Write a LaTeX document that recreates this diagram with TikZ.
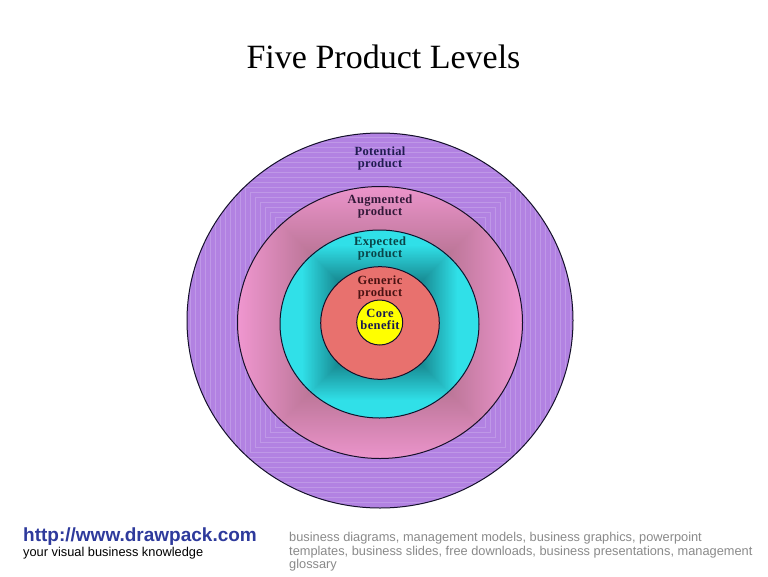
\documentclass[tikz,border=0pt]{standalone}
\usepackage{fontspec}
\setmainfont{Liberation Serif}
\newfontfamily\arialf{Liberation Sans}
\definecolor{purpleC}{HTML}{B282E2}
\definecolor{pinkO}{HTML}{EE96CE}
\definecolor{pinkI}{HTML}{BC7698}
\definecolor{cyanO}{HTML}{30E0E8}
\definecolor{cyanI}{HTML}{178890}
\definecolor{redC}{HTML}{E8716E}
\definecolor{yelC}{HTML}{FFFF00}
\definecolor{outlineC}{HTML}{14102A}
\definecolor{txPot}{HTML}{201C50}
\definecolor{txAug}{HTML}{321838}
\definecolor{txExp}{HTML}{0A4448}
\definecolor{txGen}{HTML}{4A1212}
\definecolor{txCore}{HTML}{1A1A50}
\definecolor{urlC}{HTML}{2E3A9C}
\definecolor{grayT}{HTML}{8A8A8A}
\tikzset{
  ring/.style={draw=outlineC, line width=1pt},
  lvl/.style={align=center, inner sep=0pt, font=\fontsize{12.5}{12}\selectfont\bfseries\addfontfeatures{LetterSpace=3}},
  foot/.style={inner sep=0pt, anchor=base west, font=\arialf\fontsize{12.8}{13.5}\selectfont},
}
\begin{document}
\begin{tikzpicture}[x=1pt,y=-1pt]
\useasboundingbox (0,0) rectangle (768,576);
\fill[white] (0,0) rectangle (768,576);

% title
\node[anchor=base, inner sep=0pt, font=\fontsize{34}{36}\selectfont] (title) at (383.5,68) {Five Product Levels};

% potential (outer)
\fill[purpleC] (380,320.5) ellipse [x radius=193pt, y radius=187.5pt];
\begin{scope}
  \clip (380,320.5) ellipse [x radius=193pt, y radius=187.5pt];
  \foreach \s in {105,110,...,190}
    \draw[white, opacity=0.18, line width=0.7pt] ({380-\s},{322-\s}) rectangle ({380+\s},{322+\s});
\end{scope}

% augmented (pink)
\begin{scope}
  \clip (380,322.5) ellipse [x radius=142.5pt, y radius=136pt];
  \foreach \s in {144,143,...,60}{
    \pgfmathtruncatemacro\t{max(0,min(100,(\s-70)/(140-70)*100))}
    \fill[pinkO!\t!pinkI] ({380-\s},{322.5-\s}) rectangle ({380+\s},{322.5+\s});
  }
\end{scope}

% expected (cyan)
\begin{scope}
  \clip (379.5,324) ellipse [x radius=99.5pt, y radius=94pt];
  \foreach \s in {100,99,...,30}{
    \pgfmathtruncatemacro\t{max(0,min(100,(\s-41)/(78-41)*100))}
    \fill[cyanO!\t!cyanI] ({380-\s},{323-\s}) rectangle ({380+\s},{323+\s});
  }
\end{scope}

% generic (red)
\fill[redC] (380,323) ellipse [x radius=59.3pt, y radius=56.3pt];
% core (yellow)
\fill[yelC] (379.7,322.5) ellipse [x radius=23pt, y radius=22.5pt];

% outlines
\draw[ring] (380,320.5) ellipse [x radius=193pt, y radius=187.5pt];
\draw[ring] (380,322.5) ellipse [x radius=142.5pt, y radius=136pt];
\draw[ring] (379.5,324) ellipse [x radius=99.5pt, y radius=94pt];
\draw[ring] (380,323) ellipse [x radius=59.3pt, y radius=56.3pt];
\draw[ring] (379.7,322.5) ellipse [x radius=23pt, y radius=22.5pt];

% labels
\node[lvl, text=txPot] (pot) at (380,158) {Potential\\product};
\node[lvl, text=txAug] (aug) at (380,206) {Augmented\\product};
\node[lvl, text=txExp] (exp) at (380,248.5) {Expected\\product};
\node[lvl, text=txGen] (gen) at (380,287) {Generic\\product};
\node[lvl, text=txCore] (core) at (380,319) {Core\\benefit};

% footer
\node[foot, text=urlC, font=\arialf\fontsize{19}{20}\selectfont\bfseries] (url) at (23,541.7) {http://www.drawpack.com};
\node[foot, text=black] (tag) at (23,556) {your visual business knowledge};
\node[foot, text=grayT] (ft1) at (289,541.7) {business diagrams, management models, business graphics, powerpoint};
\node[foot, text=grayT] (ft2) at (289,555.2) {templates, business slides, free downloads, business presentations, management};
\node[foot, text=grayT] (ft3) at (289,568.7) {glossary};
\end{tikzpicture}
\end{document}
